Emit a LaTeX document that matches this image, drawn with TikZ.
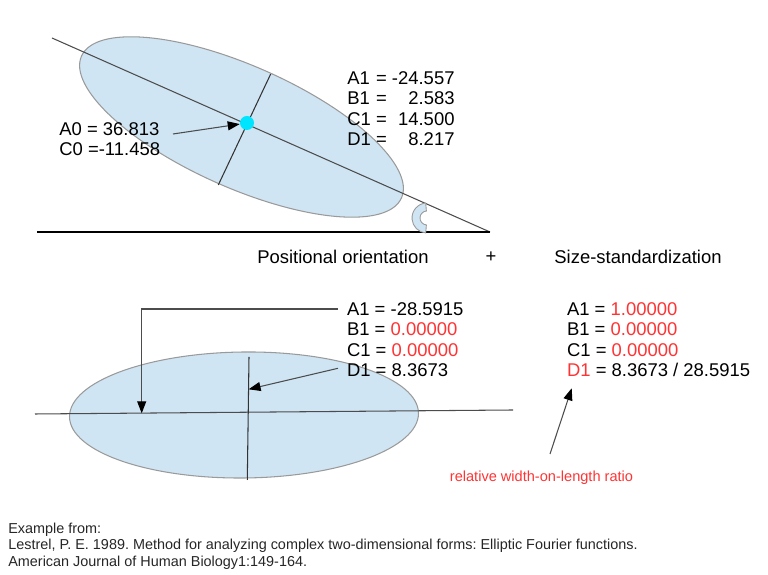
\documentclass[tikz,border=0pt]{standalone}
\usepackage{fontspec}
\setmainfont{Liberation Sans}
\usetikzlibrary{arrows.meta}

\definecolor{ellipseblue}{HTML}{CFE5F3}
\definecolor{ellipsegray}{HTML}{9A9A9A}
\definecolor{centroidcyan}{HTML}{00E5FF}
\definecolor{valuered}{HTML}{FF3333}

\begin{document}
\frenchspacing
\begin{tikzpicture}[
        shapeline/.style={draw=ellipsegray, line width=0.6pt, fill=ellipseblue},
        axisline/.style={draw=black!80, line width=0.6pt},
        pointer/.style={draw=black!70, line width=0.6pt, -{Triangle[length=0.24cm, width=0.18cm, color=black]}},
        coeffs/.style={anchor=west, inner sep=0pt, align=left, font=\fontsize{10.5}{11.7}\selectfont},
    ]
        \useasboundingbox (0,0) rectangle (15.36,11.5);

        % Original outline --  --  --  --  --  --  --  --  --  --  --  --
        % tilted ellipse
        \draw[shapeline, rotate around={-23.9:(4.83,8.96)}] (4.83,8.96)
            ellipse [x radius=3.5, y radius=1.22];

        % minor and major axis
        \draw[axisline] (5.414,10.02) -- (4.366,7.8);
        \draw[axisline, draw=black!70] (1.04,10.74) -- (9.8,6.86);

        % ground line
        \draw[axisline, draw=black] (0.74,6.86) -- (9.8,6.86);

        % angle mark
        \coordinate (pivot) at (8.54,7.14);
        \draw[draw=ellipsegray, fill=ellipseblue, line width=0.5pt]
            ([shift={(95:0.3)}]pivot) arc[start angle=95, end angle=265, radius=0.3]
            -- ([shift={(265:0.14)}]pivot) arc[start angle=265, end angle=95, radius=0.14]
            -- cycle;

        % centroid
        \node[circle, fill=centroidcyan, inner sep=0pt, minimum size=0.28cm] (centroid) at (4.94,9.04) {};
        \node[coeffs] (zeroterms) at (1.18,8.72) {A0 = 36.813\\C0 =-11.458};
        \coordinate (zerotail) at (3.46,8.82);
        \draw[pointer] (zerotail) -- (centroid);

        % first harmonic
        \node[coeffs] (firstraw) at (6.94,9.28) {%
            \begin{tabular}{@{}l@{ = }r@{}}
                A1 & -24.557\\
                B1 & 2.583\\
                C1 & 14.500\\
                D1 & 8.217
            \end{tabular}};
        %  --  --  --  --  --  --  --  --  --  --  --  --  --  --  --  --

        % Headings --  --  --  --  --  --  --  --  --  --  --  --  --  --
        \node[font=\fontsize{10.5}{11.7}\selectfont] (posorient) at (6.86,6.36) {Positional orientation};
        \node[font=\fontsize{10.5}{11.7}\selectfont] (plus) at (9.82,6.36) {+};
        \node[font=\fontsize{10.5}{11.7}\selectfont] (sizestd) at (12.76,6.36) {Size-standardization};
        %  --  --  --  --  --  --  --  --  --  --  --  --  --  --  --  --

        % Normalized outline --  --  --  --  --  --  --  --  --  --  --  -
        \draw[shapeline, rotate around={0.6:(4.88,3.2)}] (4.88,3.2)
            ellipse [x radius=3.49, y radius=1.26];

        \draw[axisline, draw=black!70] (0.7,3.22) -- (10.26,3.3);
        \draw[axisline] (4.98,4.36) -- (4.946,1.9);

        \node[coeffs] (oriented) at (6.934,4.71) {%
            A1 = -28.5915\\
            B1 = \textcolor{valuered}{0.00000}\\
            C1 = \textcolor{valuered}{0.00000}\\
            D1 = 8.3673};

        \node[coeffs] (scaled) at (11.334,4.71) {%
            A1 = \textcolor{valuered}{1.00000}\\
            B1 = \textcolor{valuered}{0.00000}\\
            C1 = \textcolor{valuered}{0.00000}\\
            \textcolor{valuered}{D1} = 8.3673 / 28.5915};

        % pointers
        \coordinate (atail) at (6.76,5.32);
        \coordinate (abend) at (2.834,5.32);
        \coordinate (atip) at (2.834,3.234);
        \draw[pointer] (atail) -- (abend) -- (atip);

        \coordinate (dtail) at (6.76,4.134);
        \coordinate (dtip) at (4.972,3.714);
        \draw[pointer] (dtail) -- (dtip);

        \node[text=valuered, font=\fontsize{8.3}{9.5}\selectfont] (ratio) at (10.83,1.94) {relative width-on-length ratio};
        \coordinate (rtail) at (11.0,2.42);
        \coordinate (rtip) at (11.434,3.734);
        \draw[pointer] (rtail) -- (rtip);
        %  --  --  --  --  --  --  --  --  --  --  --  --  --  --  --  --

        % Source --  --  --  --  --  --  --  --  --  --  --  --  --  --  -
        \node[anchor=west, inner sep=0pt, align=left, text=black!85,
            font=\fontsize{8.2}{9.3}\selectfont] (source) at (0.16,0.58) {%
            Example from:\\
            Lestrel, P. E. 1989. Method for analyzing complex two-dimensional forms: Elliptic Fourier functions.\\
            American Journal of Human Biology1:149-164.};
        %  --  --  --  --  --  --  --  --  --  --  --  --  --  --  --  --
    \end{tikzpicture}
\end{document}
